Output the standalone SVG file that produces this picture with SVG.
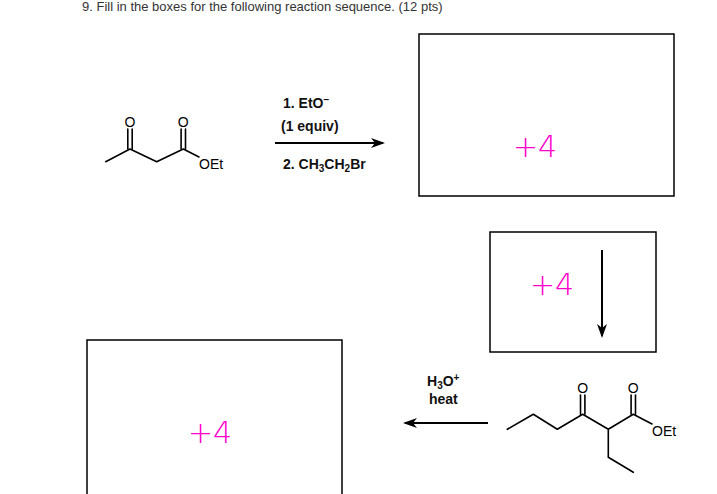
<svg xmlns="http://www.w3.org/2000/svg" width="717" height="494" viewBox="0 0 717 494">
<style>
.t{font-family:"Liberation Sans",Arial,sans-serif;font-size:14px;fill:#000}
.h{font-family:"Liberation Sans",Arial,sans-serif;font-size:13px;fill:#333}
.b{font-family:"Liberation Sans",Arial,sans-serif;font-size:14px;font-weight:bold;fill:#111}
.bond{stroke:#000;stroke-width:1.6;fill:none;stroke-linecap:round;stroke-linejoin:round}
.box{fill:#fff;stroke:#000;stroke-width:1.5}
.pk{font-family:"DejaVu Sans",sans-serif;font-size:30px;font-weight:300;fill:#ff00cc}
.arr{stroke:#000;stroke-width:2;fill:none}
</style>
<defs><marker id="ah" markerWidth="14" markerHeight="10" refX="12" refY="5" orient="auto" markerUnits="userSpaceOnUse"><path d="M0,0 L14,5 L0,10 L4,5 Z" fill="#000"/></marker></defs>
<rect width="717" height="494" fill="#fff"/>
<text class="h" x="82" y="11">9. Fill in the boxes for the following reaction sequence. (12 pts)</text>
<g id="reactant">
<path class="bond" d="M105.7,161.7 L130,149 L156.7,161.7 L183.3,149 L199,157"/>
<path class="bond" d="M127.8,149 V129 M132.2,149 V129 M181.1,149 V129 M185.5,149 V129"/>
<text class="t" x="130" y="127" text-anchor="middle">O</text>
<text class="t" x="183.3" y="127" text-anchor="middle">O</text>
<text class="t" x="199" y="169">OEt</text>
</g>
<g id="box1"><rect class="box" x="419" y="34" width="255" height="162"/><text class="pk" x="535" y="157" text-anchor="middle">+4</text></g>
<g id="box2"><rect class="box" x="490" y="232" width="166" height="120"/><text class="pk" x="552" y="295" text-anchor="middle">+4</text></g>
<g id="box3"><rect class="box" x="87" y="340" width="255" height="160"/><text class="pk" x="210" y="443" text-anchor="middle">+4</text></g>
<g id="product">
<path class="bond" d="M507.3,429.3 L533.3,414.3 L557.3,429.3 L582.7,414.3 L608.3,429.3 L633.3,414.3 L652,424 M608.3,429.3 V457.3 L633.3,472.3"/>
<path class="bond" d="M580.5,414.3 V395 M584.9,414.3 V395 M631.1,414.3 V395 M635.5,414.3 V395"/>
<text class="t" x="582.7" y="393" text-anchor="middle">O</text>
<text class="t" x="633.3" y="393" text-anchor="middle">O</text>
<text class="t" x="652" y="436">OEt</text>
</g>
<g id="connectors">
<line class="arr" x1="275" y1="143" x2="383" y2="143" marker-end="url(#ah)"/>
<line class="arr" x1="602" y1="250" x2="602" y2="336" marker-end="url(#ah)"/>
<line class="arr" x1="488" y1="423" x2="405" y2="423" marker-end="url(#ah)"/>
</g>
<text class="b" x="283" y="108">1. EtO<tspan dy="-5" font-size="10">−</tspan></text>
<text class="b" x="281" y="131">(1 equiv)</text>
<text class="b" x="283" y="169">2. CH<tspan dy="3" font-size="10">3</tspan><tspan dy="-3">CH</tspan><tspan dy="3" font-size="10">2</tspan><tspan dy="-3">Br</tspan></text>
<text class="b" x="427" y="386">H<tspan dy="3" font-size="10">3</tspan><tspan dy="-3">O</tspan><tspan dy="-5" font-size="10">+</tspan></text>
<text class="b" x="429" y="404">heat</text>
</svg>
